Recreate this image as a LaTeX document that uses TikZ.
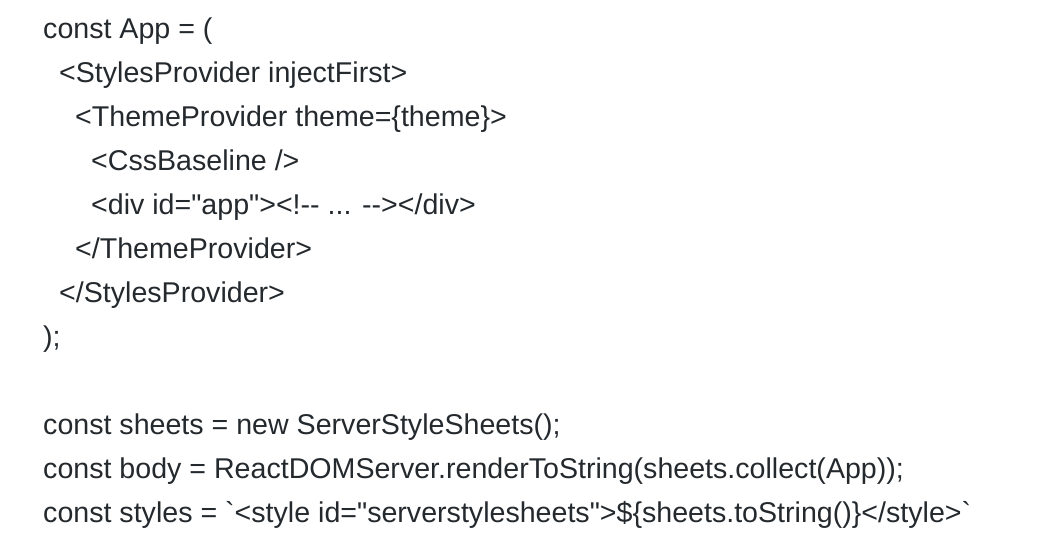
\documentclass[tikz,border=0pt]{standalone}
\usepackage{fontspec}
\newfontfamily\codefont{Liberation Sans}
\definecolor{txt}{HTML}{24292E}
\begin{document}
\begin{tikzpicture}[x=1pt,y=-1pt,
  ln/.style={anchor=base west,inner sep=0pt,font=\codefont\fontsize{28.6}{34}\selectfont,text=txt}]
\useasboundingbox (0,0) rectangle (1046,542);
\node[ln] (l1) at (43,38) {const App = (};
\node[ln] (l2) at (59,82) {<StylesProvider injectFirst>};
\node[ln] (l3) at (75,126) {<ThemeProvider theme=\{theme\}>};
\node[ln] (l4) at (91,170) {<CssBaseline />};
\node[ln] (l5) at (91,214) {<div id="app"><!-- ... --></div>};
\node[ln] (l6) at (75,258) {</ThemeProvider>};
\node[ln] (l7) at (59,302) {</StylesProvider>};
\node[ln] (l8) at (43,346) {);};
\node[ln] (l9) at (43,434) {const sheets = new ServerStyleSheets();};
\node[ln] (l10) at (43,478) {const body = ReactDOMServer.renderToString(sheets.collect(App));};
\node[ln] (l11) at (43,522) {const styles = `<style id="serverstylesheets">\$\{sheets.toString()\}</style>`};
\end{tikzpicture}
\end{document}
